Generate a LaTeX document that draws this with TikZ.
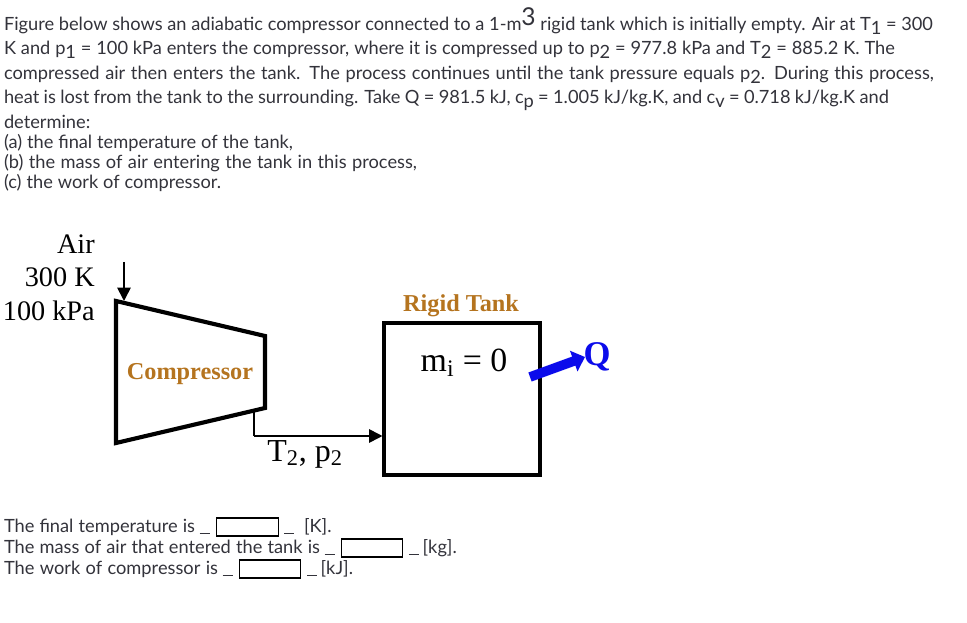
\documentclass[tikz,border=0pt]{standalone}
\usepackage{fontspec}
\setmainfont{Liberation Serif}
\newfontfamily\bodyfont{Lato}
\usetikzlibrary{arrows.meta}
\newcommand{\sbx}[1]{\raisebox{-0.42ex}{#1}}
\newcommand{\spx}[1]{\raisebox{0.62ex}{\scalebox{1.35}{#1}}}
\newcommand{\usc}{\rule[-1.2pt]{7.5pt}{0.7pt}}
\definecolor{labelbrown}{HTML}{B5741F}
\definecolor{heatblue}{HTML}{0B0BEB}
\definecolor{bodyink}{HTML}{33333B}
\tikzset{
  bodytext/.style={anchor=base west,inner sep=0pt,outer sep=0pt,text=bodyink,font=\bodyfont\fontsize{13.68}{15}\selectfont},
  serifright/.style={anchor=base east,inner sep=0pt,font=\fontsize{21.2}{24}\selectfont},
  brownlabel/.style={anchor=base,inner sep=0pt,text=labelbrown,font=\bfseries\fontsize{18.2}{20}\selectfont},
  thickwall/.style={draw=black,line width=3.1pt,miter limit=10},
  thinflow/.style={draw=black,line width=1.3pt,-{Triangle[length=10pt,width=10pt]}},
  thinline/.style={draw=black,line width=1.1pt},
  answerbox/.style={draw=black,line width=0.8pt,fill=white,minimum width=46pt,minimum height=13.5pt,inner sep=0pt},
  heatarrow/.style={draw=heatblue,line width=7.2pt,-{Triangle[length=9pt,width=16pt]}}
}
\begin{document}
\begin{tikzpicture}[x=0.75pt,y=-0.75pt]
\path[use as bounding box,fill=white] (0,0) rectangle (967,623);
% problem statement
\node[bodytext] (l1) at (4,31) {\makebox[696.75pt][s]{Figure below shows an adiabatic compressor connected to a 1-m\spx{3} rigid tank which is initially empty. Air at T\sbx{1} = 300}};
\node[bodytext] (l2) at (4,55) {\makebox[668.25pt][s]{K and p\sbx{1} = 100 kPa enters the compressor, where it is compressed up to p\sbx{2} = 977.8 kPa and T\sbx{2} = 885.2 K. The}};
\node[bodytext] (l3) at (4,80) {\makebox[697.5pt][s]{compressed air then enters the tank. The process continues until the tank pressure equals p\sbx{2}. During this process,}};
\node[bodytext] (l4) at (4,104) {\makebox[663.75pt][s]{heat is lost from the tank to the surrounding. Take Q = 981.5 kJ, c\sbx{p} = 1.005 kJ/kg.K, and c\sbx{v} = 0.718 kJ/kg.K and}};
\node[bodytext] (l5) at (4,129) {determine:};
\node[bodytext] (l6) at (4,149) {\makebox[216.75pt][s]{(a) the final temperature of the tank,}};
\node[bodytext] (l7) at (4,169) {\makebox[309.75pt][s]{(b) the mass of air entering the tank in this process,}};
\node[bodytext] (l8) at (4,189) {\makebox[162.75pt][s]{(c) the work of compressor.}};
% inlet labels
\node[serifright] (air) at (95,254) {Air};
\node[serifright] (tk) at (95,287) {300 K};
\node[serifright] (pk) at (95,321) {100 kPa};
% compressor
\coordinate (c1) at (116,301);
\coordinate (c2) at (265,336);
\coordinate (c3) at (265,408);
\coordinate (c4) at (116,443);
\coordinate (inlet) at (124,262);
\coordinate (inletend) at (124,301);
\coordinate (outlet) at (254,410);
\draw[thickwall] (c1) -- (c2) -- (c3) -- (c4) -- cycle;
\node[brownlabel] (comp) at (190,380) {Compressor};
\draw[thinflow] (inlet) -- (inletend);
% tank
\node[draw=black,line width=2.8pt,minimum width=116.5pt,minimum height=114.5pt,inner sep=0pt] (tank) at (462,399) {};
\node[brownlabel] (rt) at (461,312) {Rigid Tank};
\node[anchor=base,inner sep=0pt,font=\fontsize{25.4}{28}\selectfont] (mi) at (464,372) {m\textsubscript{i} = 0};
% connector
\coordinate (bend) at (254,436);
\draw[thinline] (outlet) -- (bend);
\draw[thinflow] (bend) -- (tank.west |- bend);
\node[anchor=base,inner sep=0pt,font=\fontsize{24}{26}\selectfont] (t2) at (305,461) {T\textsubscript{2}, p\textsubscript{2}};
% heat
\coordinate (qs) at (530,377);
\coordinate (qe) at (585,357);
\draw[heatarrow] (qs) -- (qe);
\node[anchor=base,inner sep=0pt,text=heatblue,font=\bfseries\fontsize{26}{28}\selectfont] (q) at (597,366) {Q};
% answers
\node[bodytext] (a1) at (4,532) {\makebox[143.25pt][s]{The final temperature is} \usc};
\node[answerbox] (b1) at (247.5,527) {};
\node[bodytext] (a1e) at (284,532) {\usc\hspace{0.55em}[K].};
\node[bodytext] (a2) at (4,553) {\makebox[237pt][s]{The mass of air that entered the tank is} \usc};
\node[answerbox] (b2) at (372,548) {};
\node[bodytext] (a2e) at (409,553) {\usc\hspace{0.2em}[kg].};
\node[bodytext] (a3) at (4,574) {\makebox[160.5pt][s]{The work of compressor is} \usc};
\node[answerbox] (b3) at (270,569) {};
\node[bodytext] (a3e) at (307,574) {\usc\hspace{0.2em}[kJ].};
\end{tikzpicture}
\end{document}
